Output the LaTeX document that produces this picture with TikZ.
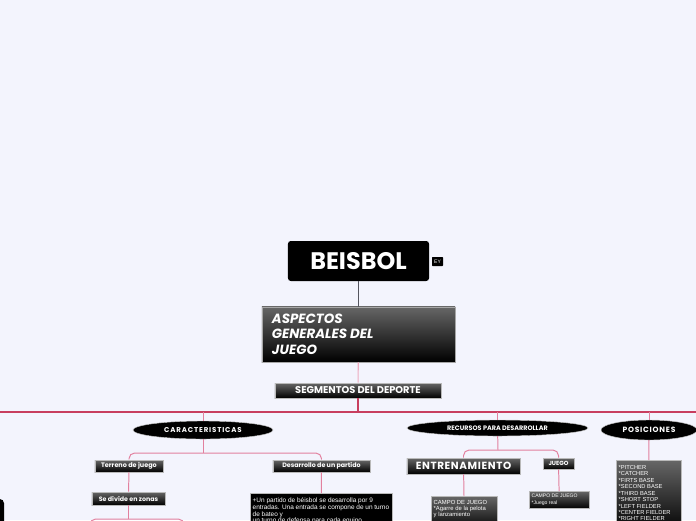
\documentclass[tikz,border=0pt]{standalone}
\usepackage{fontspec}
\setmainfont{Liberation Sans}
\newfontfamily\headfont{Poppins}
\usetikzlibrary{positioning, shapes.geometric}
\definecolor{bgcol}{RGB}{243,244,253}
\definecolor{mainred}{RGB}{200,62,95}
\definecolor{linkpink}{RGB}{226,128,158}
\definecolor{lightpink}{RGB}{238,172,192}
\definecolor{stemgray}{RGB}{85,85,95}
\newcommand{\notelines}[1]{\begin{tabular}{@{}l@{}}#1\end{tabular}}

\begin{document}
\begin{tikzpicture}[x=0.025cm, y=-0.025cm,
        title/.style={rectangle, rounded corners=2pt, fill=black, text=white, inner sep=0pt},
        tag/.style={rectangle, draw=gray!55, line width=0.4pt, top color=black!60, bottom color=black, text=white, inner sep=0pt},
        oval/.style={ellipse, fill=black, draw=gray!40, line width=0.3pt, text=white, inner sep=0pt},
        note/.style={rectangle, draw=gray!55, line width=0.4pt, top color=black!60, bottom color=black, text=white, align=flush left, anchor=north west, inner xsep=0.06cm, inner ysep=0.1cm},
        link/.style={draw=linkpink, line width=0.7pt},
        trunk/.style={draw=mainred, line width=0.8pt}
    ]
        % Canvas
        \fill[bgcol] (0,0) rectangle (696,520);
        \clip (0,0) rectangle (696,520);

        % Nodes
        \node (beis) [title, minimum width=3.525cm, minimum height=1cm] at (358.5,261)
            {\headfont\bfseries\fontsize{17}{17}\selectfont BEISBOL};
        \node (ey) [title, rounded corners=0.5pt, minimum width=0.275cm, minimum height=0.225cm] at (437.5,261.5)
            {\fontsize{3.5}{3.5}\selectfont EY};
        \node (asp) [tag, draw=gray!70, minimum width=4.825cm, minimum height=1.375cm, text width=4.325cm, align=flush left] at (358.5,334.5)
            {\headfont\bfseries\itshape\fontsize{9.5}{10.4}\selectfont ASPECTOS\\GENERALES DEL\\JUEGO};
        \node (segm) [tag, minimum width=4.15cm, minimum height=0.375cm] at (358,390.5)
            {\headfont\bfseries\fontsize{7}{7}\selectfont SEGMENTOS DEL DEPORTE};

        \node (car) [oval, minimum width=3.5cm, minimum height=0.45cm] at (203,430)
            {\headfont\bfseries\fontsize{5}{5}\selectfont\addfontfeatures{LetterSpace=12}CARACTERISTICAS};
        \node (rec) [oval, minimum width=4.525cm, minimum height=0.4cm] at (497.5,428)
            {\headfont\bfseries\fontsize{4.6}{4.6}\selectfont RECURSOS PARA DESARROLLAR};
        \node (pos) [oval, minimum width=2.4cm, minimum height=0.5cm] at (649,430)
            {\headfont\bfseries\fontsize{5.4}{5.4}\selectfont\addfontfeatures{LetterSpace=10}POSICIONES};

        \node (terr) [tag, minimum width=1.7cm, minimum height=0.3cm] at (129,466)
            {\headfont\bfseries\fontsize{4.6}{4.6}\selectfont Terreno de juego};
        \node (desa) [tag, minimum width=2.425cm, minimum height=0.3cm] at (321.5,466)
            {\headfont\bfseries\fontsize{4.5}{4.5}\selectfont Desarrollo de un partido};
        \node (zon) [tag, minimum width=1.825cm, minimum height=0.325cm] at (128.5,498.5)
            {\headfont\bfseries\fontsize{4.5}{4.5}\selectfont Se divide en zonas};
        \node (entr) [tag, minimum width=2.825cm, minimum height=0.4cm] at (463.5,466)
            {\headfont\bfseries\fontsize{7.4}{7.4}\selectfont\addfontfeatures{LetterSpace=6}ENTRENAMIENTO};
        \node (jueg) [tag, minimum width=0.775cm, minimum height=0.275cm] at (558.5,463.5)
            {\headfont\bfseries\fontsize{4.2}{4.2}\selectfont JUEGO};

        \node (partido) [note, fill=black, top color=black, text width=3.43cm, inner ysep=0.12cm] at (250,493)
            {\fontsize{4.6}{4.5}\selectfont\notelines{+Un partido de béisbol se desarrolla por 9\\entradas. Una entrada se compone de un turno\\de bateo y\\un turno de defensa para cada equipo.\\[4pt]}};
        \node (campoA) [note, text width=1.53cm] at (431,496)
            {\fontsize{4.2}{4.3}\selectfont\notelines{CAMPO DE JUEGO\\{}*Agarre de la pelota\\y lanzamiento\\[6pt]}};
        \node (campoB) [note, text width=1.38cm, inner ysep=0.045cm] at (529,491)
            {\fontsize{3.6}{4.9}\selectfont\notelines{CAMPO DE JUEGO\\{}*Juego real}};
        \node (poslist) [note, text width=1.505cm, inner ysep=0.11cm] at (616,460)
            {\fontsize{4.1}{4.6}\selectfont\notelines{*PITCHER\\{}*CATCHER\\{}*FIRTS BASE\\{}*SECOND BASE\\{}*THIRD BASE\\{}*SHORT STOP\\{}*LEFT FIELDER\\{}*CENTER FIELDER\\{}*RIGHT FIELDER\\[4pt]}};

        % Shape cut by the left edge
        \fill[black, rounded corners=3pt] (-60,499) rectangle (4,540);

        % Junctions
        \coordinate (hub) at (358,412);
        \coordinate (leftend) at (0,412);
        \coordinate (rightend) at (696,412);
        \coordinate (carj) at (203,453);
        \coordinate (recj) at (498,450);
        \coordinate (zonj) at (128.5,519);
        \coordinate (zonl) at (90,535);
        \coordinate (zonr) at (184,535);

        % Connectors
        \draw [draw=stemgray, line width=0.8pt] (beis) -- (asp);
        \draw [draw=lightpink, line width=0.8pt] (asp) -- (segm);
        \draw [trunk] (segm) -- (hub);
        \draw [trunk] (leftend) -- (rightend);
        \draw [link] (car.north |- hub) -- (car);
        \draw [link] (rec.north |- hub) -- (rec);
        \draw [link] (pos.north |- hub) -- (pos);

        \draw [link] (car) -- (carj);
        \draw [link, rounded corners=4pt] (terr.north) |- (carj) -| (desa.north);
        \draw [link] (rec) -- (recj);
        \draw [link, rounded corners=4pt] (entr.north) |- (recj) -| (jueg.north);

        \draw [link] (terr) -- (zon);
        \draw [link] (zon) -- (zonj);
        \draw [link, rounded corners=4pt] (zonl) |- (zonj) -| (zonr);
        \draw [link] (desa) -- (partido);
        \draw [link] (entr) -- (campoA);
        \draw [link] (jueg) -- (campoB);
        \draw [link] (pos) -- (poslist);
    \end{tikzpicture}
\end{document}
